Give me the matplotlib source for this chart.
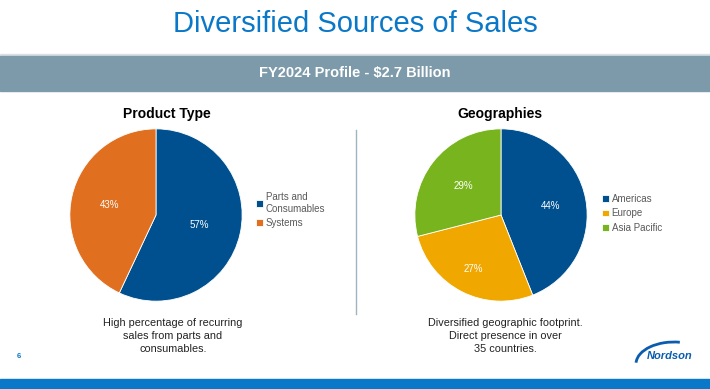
import matplotlib.pyplot as plt
from matplotlib.patches import Rectangle, Arc

plt.rcParams['font.family'] = ['Liberation Sans', 'DejaVu Sans']

product_labels = ['Parts and\nConsumables', 'Systems']
product_values = [57, 43]
product_colors = ['#00508f', '#e07020']

geo_labels = ['Americas', 'Europe', 'Asia Pacific']
geo_values = [44, 27, 29]
geo_colors = ['#00508f', '#f0a800', '#78b41e']

W, H = 710, 389
fig = plt.figure(figsize=(W / 100, H / 100), dpi=100)


def fx(x):
    return x / W


def fy(y):
    return 1 - y / H


# background shapes
bg = fig.add_axes([0, 0, 1, 1])
bg.set_xlim(0, W)
bg.set_ylim(H, 0)
bg.axis('off')
bg.add_patch(Rectangle((0, 54), W, 1.5, color='#d8e0e6'))
bg.add_patch(Rectangle((0, 55.5), W, 35.5, color='#7d9aaa'))
bg.add_patch(Rectangle((0, 379), W, 10, color='#0a78c8'))
bg.plot([356, 356], [130, 314], color='#9fb3c0', lw=1)

fig.text(0.5, fy(24), 'Diversified Sources of Sales', ha='center', va='center',
         fontsize=21, color='#0a78c8')
fig.text(0.5, fy(73), 'FY2024 Profile - $2.7 Billion', ha='center', va='center',
         fontsize=10.5, color='white', fontweight='bold')

fig.text(fx(167), fy(114), 'Product Type', ha='center', va='center',
         fontsize=10, fontweight='bold', color='black')
fig.text(fx(500), fy(114), 'Geographies', ha='center', va='center',
         fontsize=10, fontweight='bold', color='black')


def draw_pie(cx, values, colors, labels, leg_x, leg_y, dists):
    r = 87
    ax = fig.add_axes([fx(cx - r), fy(215 + r), 2 * r / W, 2 * r / H])
    wedges, texts, autotexts = ax.pie(
        values, colors=colors, startangle=90, counterclock=False,
        autopct='%d%%', pctdistance=1.0,
        wedgeprops=dict(edgecolor='white', linewidth=0.6),
        textprops=dict(color='white', fontsize=7))
    for t, d in zip(autotexts, dists):
        x, y = t.get_position()
        t.set_position((x * d, y * d))
    ax.set_xlim(-1.01, 1.01)
    ax.set_ylim(-1.01, 1.01)
    ax.axis('off')
    ax.legend(wedges, labels, loc='upper left', frameon=False,
              bbox_to_anchor=(fx(leg_x), fy(leg_y)),
              bbox_transform=fig.transFigure,
              fontsize=7, labelcolor='#595959', handlelength=0.7,
              handleheight=0.7, handletextpad=0.3, labelspacing=0.45,
              borderaxespad=0, borderpad=0)
    return ax


draw_pie(156, product_values, product_colors, product_labels, 256, 192, [0.52, 0.55])
draw_pie(501, geo_values, geo_colors, geo_labels, 602, 194, [0.58, 0.7, 0.55])

fig.text(fx(173), fy(336), 'High percentage of recurring\nsales from parts and\nconsumables.',
         ha='center', va='center', fontsize=7.8, color='#222222', linespacing=1.35)
fig.text(fx(505), fy(336), 'Diversified geographic footprint.\nDirect presence in over\n35 countries.',
         ha='center', va='center', fontsize=7.8, color='#222222', linespacing=1.35)

fig.text(fx(19), fy(356), '6', ha='center', va='center', fontsize=5.5,
         color='#0a78c8', fontweight='bold')

# Nordson logo
fig.text(fx(670), fy(356), 'Nordson', ha='center', va='center', fontsize=8,
         color='#0a5cae', fontweight='bold', fontstyle='italic')
bg.add_patch(Arc((674, 364), 76, 44, theta1=182, theta2=285, color='#0a5cae', lw=2))

fig.savefig('out.png', dpi=100)
